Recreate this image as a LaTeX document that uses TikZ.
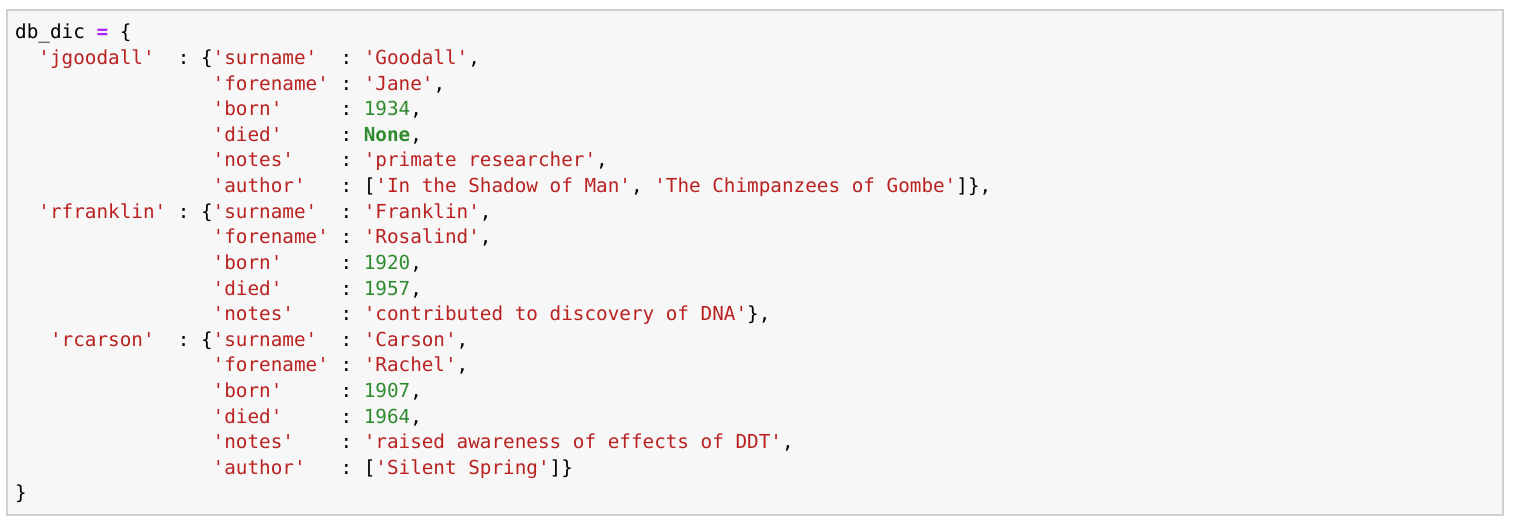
\documentclass[tikz,border=0pt]{standalone}
\usepackage{fontspec}
\setmonofont{DejaVu Sans Mono}
\definecolor{strc}{HTML}{BA2121}
\definecolor{numc}{HTML}{2E8B2E}
\definecolor{opc}{HTML}{AA22FF}
\definecolor{bgc}{HTML}{F7F7F7}
\definecolor{bdc}{HTML}{CFCFCF}
\newcommand{\sq}[1]{\textcolor{strc}{'#1'}}
\newcommand{\nm}[1]{\textcolor{numc}{#1}}
\newcommand{\ind}{~~~~~~~~~~~~~~~~~}
\tikzset{codeline/.style={anchor=base west,inner sep=0pt,font=\ttfamily\fontsize{19.3pt}{22pt}\selectfont}}
\begin{document}
\begin{tikzpicture}[x=1pt,y=1pt]
\useasboundingbox (0,0) rectangle (1516,-532);
\draw[bdc,fill=bgc,line width=1.2pt] (7,-10) rectangle (1503,-515);
\foreach \i/\t in {
0/{db\_dic~\textcolor{opc}{\textbf{=}}~\{},
1/{~~\sq{jgoodall}~~:~\{\sq{surname}~~:~\sq{Goodall},},
2/{\ind\sq{forename}~:~\sq{Jane},},
3/{\ind\sq{born}~~~~~:~\nm{1934},},
4/{\ind\sq{died}~~~~~:~\textcolor{numc}{\textbf{None}},},
5/{\ind\sq{notes}~~~~:~\sq{primate researcher},},
6/{\ind\sq{author}~~~:~[\sq{In the Shadow of Man},~\sq{The Chimpanzees of Gombe}]\},},
7/{~~\sq{rfranklin}~:~\{\sq{surname}~~:~\sq{Franklin},},
8/{\ind\sq{forename}~:~\sq{Rosalind},},
9/{\ind\sq{born}~~~~~:~\nm{1920},},
10/{\ind\sq{died}~~~~~:~\nm{1957},},
11/{\ind\sq{notes}~~~~:~\sq{contributed to discovery of DNA}\},},
12/{~~~\sq{rcarson}~~:~\{\sq{surname}~~:~\sq{Carson},},
13/{\ind\sq{forename}~:~\sq{Rachel},},
14/{\ind\sq{born}~~~~~:~\nm{1907},},
15/{\ind\sq{died}~~~~~:~\nm{1964},},
16/{\ind\sq{notes}~~~~:~\sq{raised awareness of effects of DDT},},
17/{\ind\sq{author}~~~:~[\sq{Silent Spring}]\}},
18/{\}}}
  \node[codeline] (l\i) at (15,{-39-25.6*\i}) {\t};
\end{tikzpicture}
\end{document}
